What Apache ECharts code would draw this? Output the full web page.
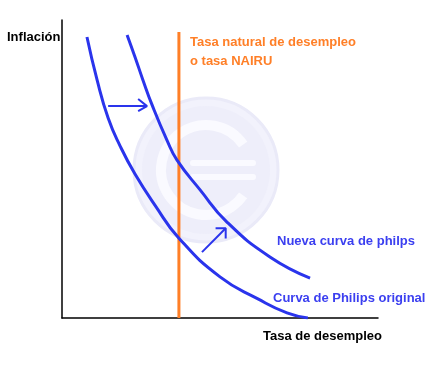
<!DOCTYPE html>
<html><head><meta charset="utf-8">
<script src="https://cdn.jsdelivr.net/npm/echarts@6/dist/echarts.min.js"></script>
<style>html,body{margin:0;padding:0;background:#fff}#c{width:438px;height:366px}</style>
</head><body><div id="c"></div>
<script>
// Curves (x: unemployment, y: inflation), arbitrary units 0..10
const originalCurve = [[0.79,9.43],[1.11,7.99],[1.46,6.71],[1.84,5.77],[2.31,4.83],[2.94,3.79],[3.70,2.68],[5.00,1.38],[6.20,0.64],[7.12,0.17],[7.78,0.0]];
const newCurve = [[2.06,9.50],[2.31,8.76],[2.56,7.99],[2.85,7.15],[3.32,5.97],[3.64,5.30],[4.37,4.30],[5.22,3.22],[6.58,2.05],[7.85,1.34]];
const nairuLine = [[3.70,9.60],[3.70,0]];
const arrow1Shaft = [[1.46,7.11],[2.69,7.11]];
const arrow1Head = [[2.41,7.35],[2.69,7.11],[2.41,6.94]];
const arrow2Shaft = [[4.43,2.21],[5.18,3.01]];
const arrow2Head = [[4.86,3.01],[5.18,3.01],[5.18,2.67]];
const labels = {
  yName: 'Inflación', xName: 'Tasa de desempleo',
  nairu1: 'Tasa natural de desempleo', nairu2: 'o tasa NAIRU',
  nueva: 'Nueva curva de philps', original: 'Curva de Philips original'
};

const BLUE = '#2a34ec', TEXTBLUE = '#3b3ff0', ORANGE = '#ff7f27';
const F = 'Liberation Sans';
const chart = echarts.init(document.getElementById('c'), null, {renderer:'canvas'});
function line(data, color, w, smooth){
  return {type:'line', data, showSymbol:false, symbol:'none', smooth: smooth ? 0.5 : false,
    lineStyle:{color, width:w}, z:2, silent:true, animation:false};
}
chart.setOption({
  animation:false,
  grid:{left:62, top:20, right:60, bottom:48},
  xAxis:{type:'value', min:0, max:10, axisLine:{show:true, onZero:false, lineStyle:{color:'#000', width:1.5}},
    axisTick:{show:false}, axisLabel:{show:false}, splitLine:{show:false}},
  yAxis:{type:'value', min:0, max:10, axisLine:{show:true, onZero:false, lineStyle:{color:'#000', width:1.5}},
    axisTick:{show:false}, axisLabel:{show:false}, splitLine:{show:false}},
  graphic:[
    {type:'circle', shape:{cx:206, cy:170, r:72}, style:{fill:'#f2f2fc', stroke:'#eaeaf8', lineWidth:3}, z:-10, silent:true},
    {type:'circle', shape:{cx:206, cy:170, r:64}, style:{fill:'#eeeefa'}, z:-9, silent:true},
    {type:'arc', shape:{cx:206, cy:170, r:45, startAngle:-0.6, endAngle:0.6, clockwise:false}, style:{stroke:'#fafaff', lineWidth:10, fill:null}, z:-8, silent:true},
    {type:'rect', shape:{x:190, y:160, width:66, height:6, r:3}, style:{fill:'#fafaff'}, z:-8, silent:true},
    {type:'rect', shape:{x:190, y:174, width:66, height:6, r:3}, style:{fill:'#fafaff'}, z:-8, silent:true},
    {type:'text', left:7, top:31, style:{text:labels.yName, font:'bold 13px "'+F+'"', fill:'#000'}},
    {type:'text', left:190, top:36, style:{text:labels.nairu1, font:'bold 13px "'+F+'"', fill:ORANGE}},
    {type:'text', left:190, top:55, style:{text:labels.nairu2, font:'bold 13px "'+F+'"', fill:ORANGE}},
    {type:'text', left:277, top:235, style:{text:labels.nueva, font:'bold 13px "'+F+'"', fill:TEXTBLUE}},
    {type:'text', left:273, top:292, style:{text:labels.original, font:'bold 13px "'+F+'"', fill:TEXTBLUE}},
    {type:'text', left:263, top:330, style:{text:labels.xName, font:'bold 13px "'+F+'"', fill:'#000'}}
  ],
  series:[
    line(nairuLine, ORANGE, 3, false),
    line(originalCurve, BLUE, 3, true),
    line(newCurve, BLUE, 3, true),
    line(arrow1Shaft, BLUE, 2, false),
    line(arrow1Head, BLUE, 2, false),
    line(arrow2Shaft, BLUE, 2, false),
    line(arrow2Head, BLUE, 2, false)
  ]
});
</script></body></html>
